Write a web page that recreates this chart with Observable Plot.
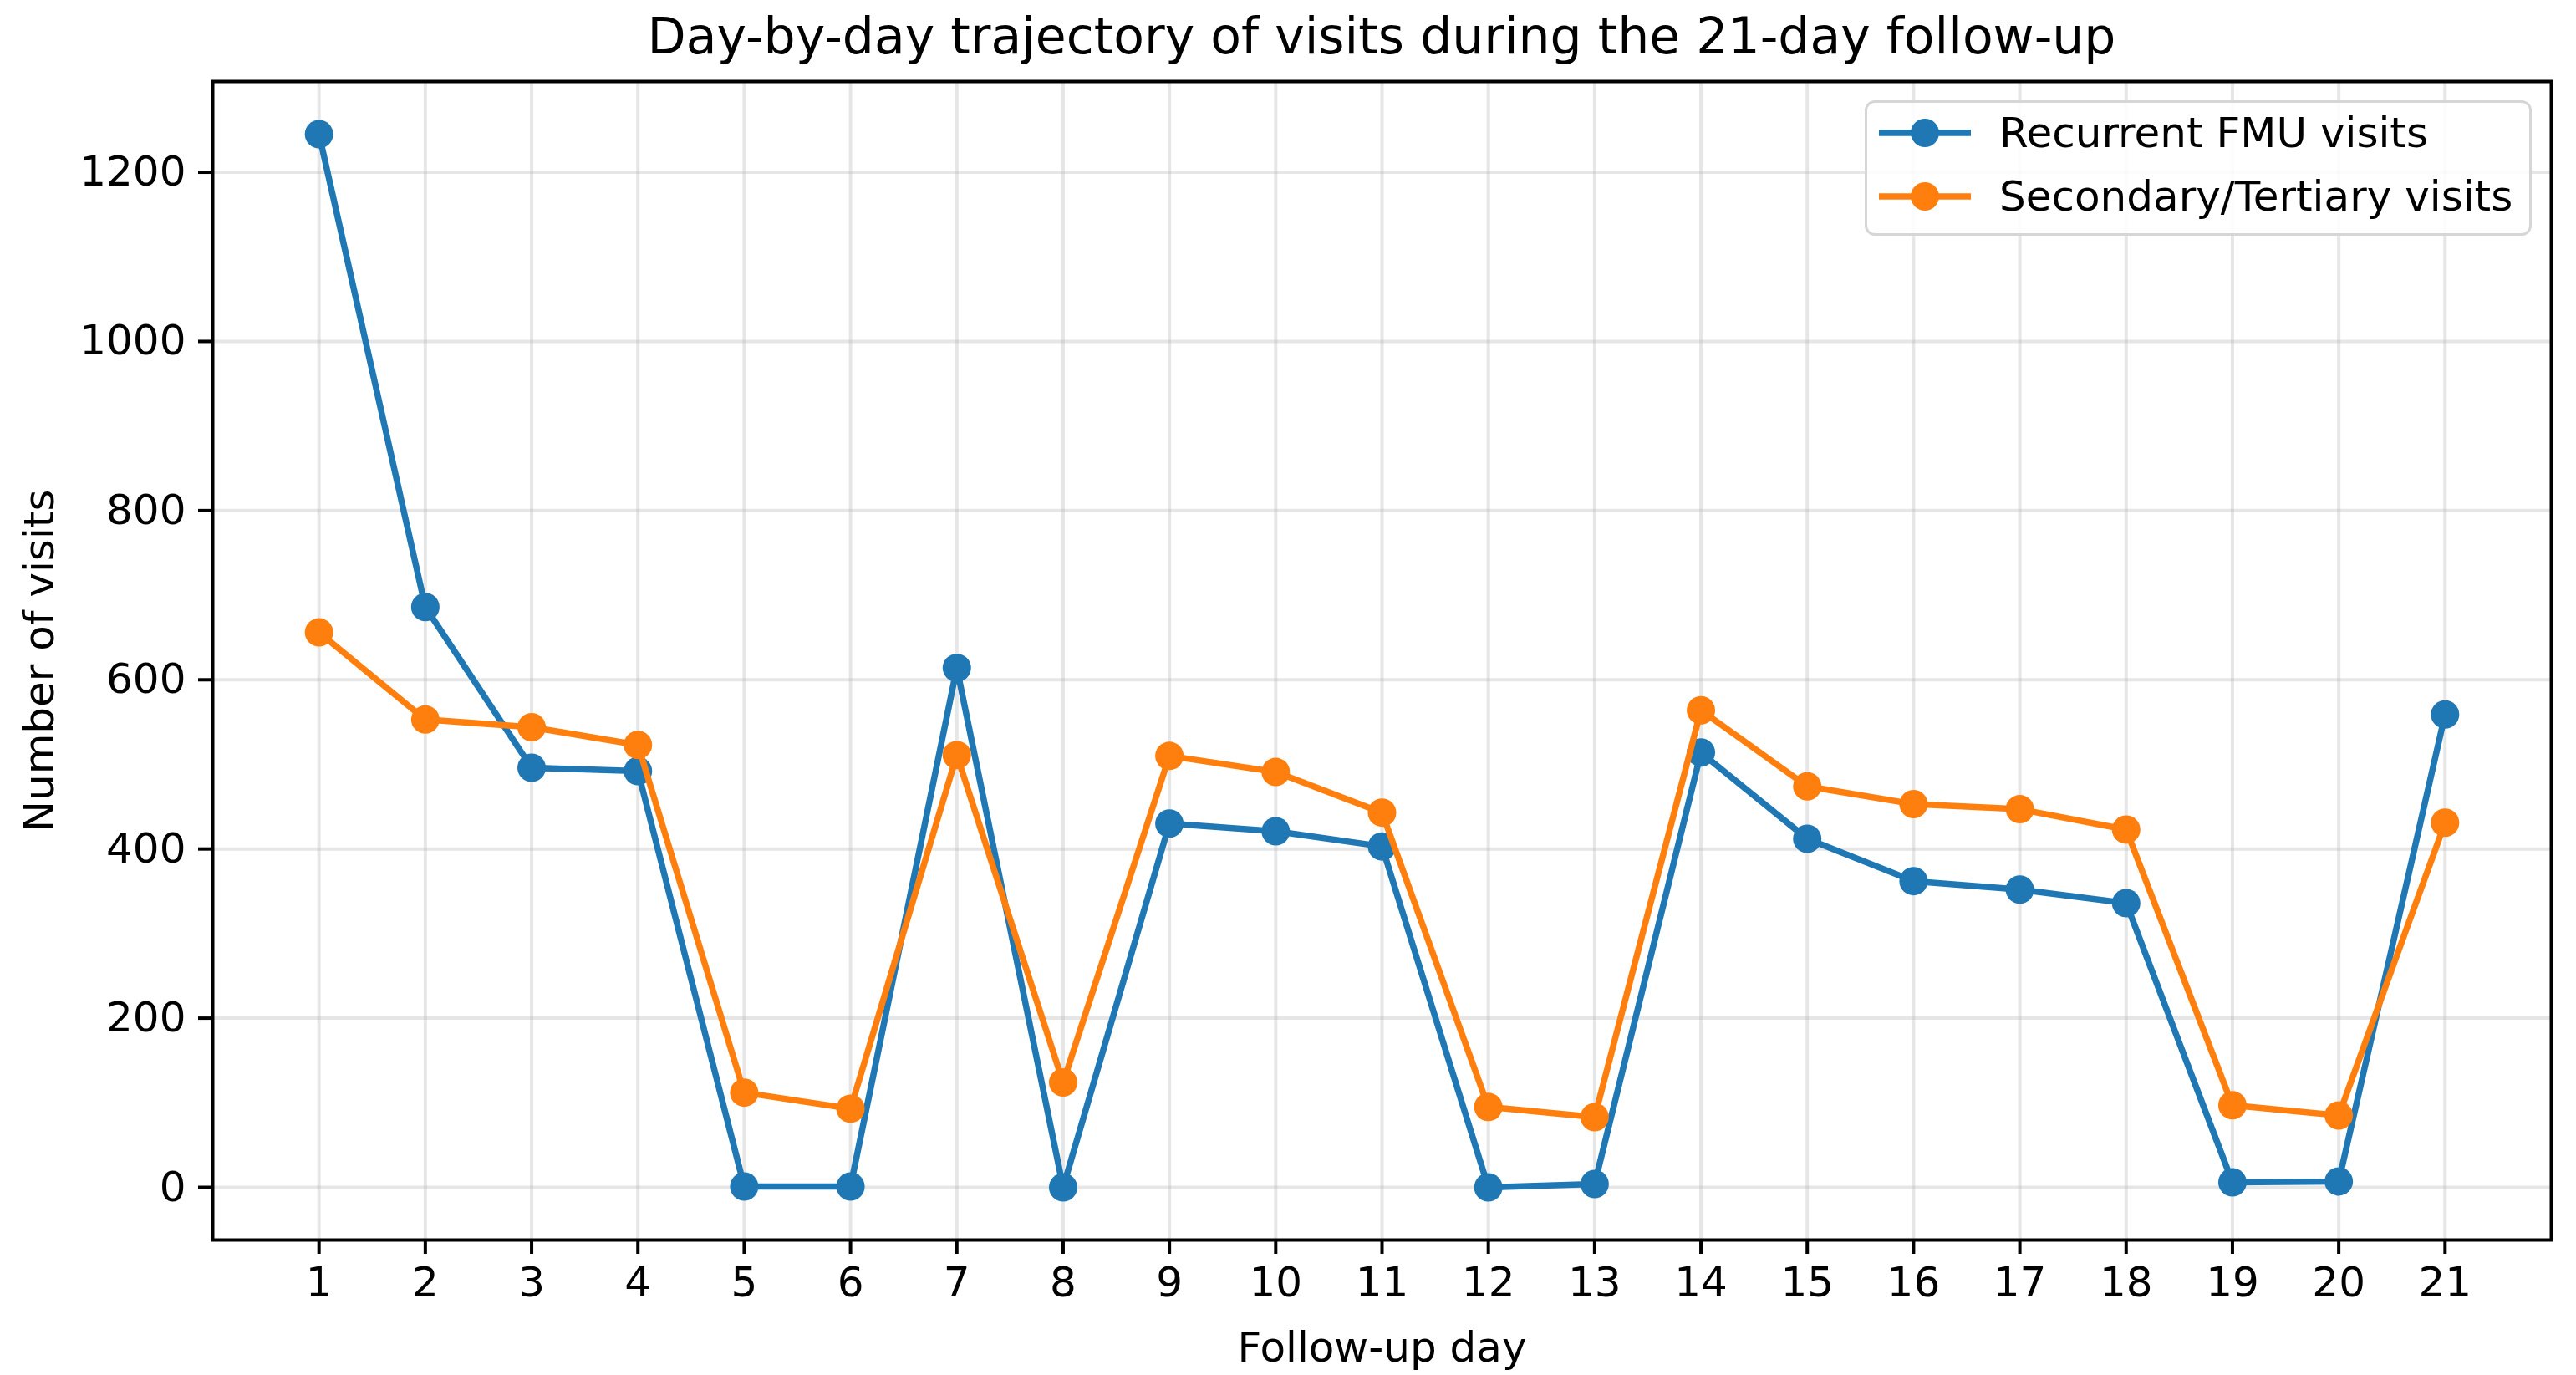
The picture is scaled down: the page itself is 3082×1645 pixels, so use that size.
<!DOCTYPE html>
<html>
<head>
<meta charset="utf-8">
<script src="https://cdn.jsdelivr.net/npm/d3@7"></script>
<script src="https://cdn.jsdelivr.net/npm/@observablehq/plot@0.6"></script>
<style>
  html, body { margin: 0; padding: 0; background: #fff; }
  body { font-family: "DejaVu Sans", sans-serif; }
  #wrap { position: relative; width: 3082px; height: 1645px; overflow: hidden; }
  #title { height: 86px; line-height: 86px; text-align: center; font-size: 60px; color: #000; padding-left: 224px; box-sizing: border-box; width: 3082px; white-space: nowrap; }
  #legend { position: absolute; left: 2231px; top: 120px; width: 798px; height: 162px; box-sizing: border-box;
            border: 3px solid #d6d6d6; border-radius: 12px; background: rgba(255,255,255,0.85); }
  .row { position: absolute; left: 0; height: 60px; display: flex; align-items: center; }
  .row span { font-size: 50px; color: #000; margin-left: 20px; white-space: nowrap; }
</style>
</head>
<body>
<div id="wrap">
  <div id="title">Day-by-day trajectory of visits during the 21-day follow-up</div>
  <div id="chart"></div>
  <div id="legend"></div>
</div>
<script>
const days = [1,2,3,4,5,6,7,8,9,10,11,12,13,14,15,16,17,18,19,20,21];
const fmuVisits = [1245,686,496,492,1,1,614,0,430,421,403,0,4,514,412,362,352,336,6,7,559];
const secondaryVisits = [656,553,544,523,112,93,511,124,510,491,443,95,83,564,474,453,447,423,97,85,431];
const seriesNames = ["Recurrent FMU visits", "Secondary/Tertiary visits"];
const seriesColors = ["#1f77b4", "#ff7f0e"];
const yTicks = [0,200,400,600,800,1000,1200];

const fmu = days.map((d, i) => ({day: d, value: fmuVisits[i], series: seriesNames[0]}));
const sec = days.map((d, i) => ({day: d, value: secondaryVisits[i], series: seriesNames[1]}));

const chart = Plot.plot({
  width: 3082,
  height: 1559,
  marginLeft: 254,
  marginRight: 30,
  marginTop: 11,
  marginBottom: 162,
  style: {fontFamily: "DejaVu Sans", fontSize: "50px", background: "white", color: "black"},
  x: {domain: [0, 22]},
  y: {domain: [-62.25, 1307.25]},
  color: {domain: seriesNames, range: seriesColors},
  marks: [
    Plot.gridX(days, {stroke: "#b0b0b0", strokeOpacity: 0.32, strokeWidth: 4}),
    Plot.gridY(yTicks, {stroke: "#b0b0b0", strokeOpacity: 0.32, strokeWidth: 4}),
    Plot.axisX(days, {tickSize: 17, tickPadding: 15, strokeWidth: 4, fontSize: 50, tickFormat: d3.format("d"),
      label: "Follow-up day", labelAnchor: "center", labelOffset: 145, labelArrow: "none"}),
    Plot.axisY(yTicks, {tickSize: 17, tickPadding: 15, strokeWidth: 4, fontSize: 50, tickFormat: d3.format("d"),
      label: "Number of visits", labelAnchor: "center", labelOffset: 226, labelArrow: "none"}),
    Plot.line(fmu, {x: "day", y: "value", stroke: "series", strokeWidth: 7.5}),
    Plot.dot(fmu, {x: "day", y: "value", fill: "series", r: 17}),
    Plot.line(sec, {x: "day", y: "value", stroke: "series", strokeWidth: 7.5}),
    Plot.dot(sec, {x: "day", y: "value", fill: "series", r: 17}),
    Plot.frame({stroke: "black", strokeWidth: 4})
  ]
});
document.getElementById("chart").appendChild(chart);

const legend = document.getElementById("legend");
seriesNames.forEach((name, i) => {
  const row = document.createElement("div");
  row.className = "row";
  row.style.top = (i === 0 ? 6 : 82) + "px";
  const svg = d3.create("svg").attr("width", 138).attr("height", 60);
  svg.append("line").attr("x1", 14).attr("x2", 124).attr("y1", 30).attr("y2", 30)
    .attr("stroke", seriesColors[i]).attr("stroke-width", 7.5);
  svg.append("circle").attr("cx", 69).attr("cy", 30).attr("r", 17).attr("fill", seriesColors[i]);
  row.appendChild(svg.node());
  const span = document.createElement("span");
  span.textContent = name;
  row.appendChild(span);
  legend.appendChild(row);
});
</script>
</body>
</html>
